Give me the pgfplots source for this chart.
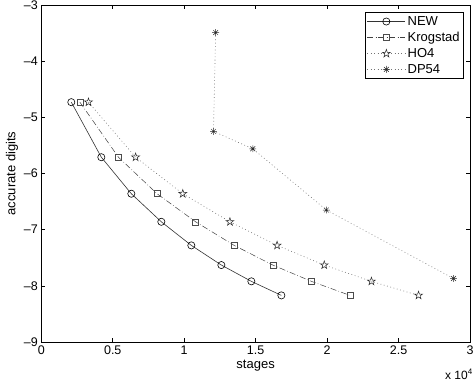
\documentclass[border=0pt]{standalone}
\usepackage{fontspec}
\setmainfont{Liberation Sans}
\usepackage{pgfplots}
\pgfplotsset{compat=1.18}
\pgfdeclareplotmark{pentagram}{%
  \pgfpathmoveto{\pgfpointpolar{90}{\pgfplotmarksize}}%
  \pgfpathlineto{\pgfpointpolar{126}{0.382\pgfplotmarksize}}%
  \pgfpathlineto{\pgfpointpolar{162}{\pgfplotmarksize}}%
  \pgfpathlineto{\pgfpointpolar{198}{0.382\pgfplotmarksize}}%
  \pgfpathlineto{\pgfpointpolar{234}{\pgfplotmarksize}}%
  \pgfpathlineto{\pgfpointpolar{270}{0.382\pgfplotmarksize}}%
  \pgfpathlineto{\pgfpointpolar{306}{\pgfplotmarksize}}%
  \pgfpathlineto{\pgfpointpolar{342}{0.382\pgfplotmarksize}}%
  \pgfpathlineto{\pgfpointpolar{18}{\pgfplotmarksize}}%
  \pgfpathlineto{\pgfpointpolar{54}{0.382\pgfplotmarksize}}%
  \pgfpathclose\pgfusepathqstroke}
\pgfdeclareplotmark{mstar}{%
  \pgfpathmoveto{\pgfqpoint{-\pgfplotmarksize}{0pt}}\pgfpathlineto{\pgfqpoint{\pgfplotmarksize}{0pt}}%
  \pgfpathmoveto{\pgfqpoint{0pt}{-\pgfplotmarksize}}\pgfpathlineto{\pgfqpoint{0pt}{\pgfplotmarksize}}%
  \pgfpathmoveto{\pgfpointpolar{45}{\pgfplotmarksize}}\pgfpathlineto{\pgfpointpolar{225}{\pgfplotmarksize}}%
  \pgfpathmoveto{\pgfpointpolar{135}{\pgfplotmarksize}}\pgfpathlineto{\pgfpointpolar{315}{\pgfplotmarksize}}%
  \pgfusepathqstroke}
\begin{document}
\begin{tikzpicture}
\begin{axis}[
  name=ax,
  scale only axis,
  width=428.7pt, height=337pt,
  xmin=0, xmax=30000, ymin=-9, ymax=-3,
  xtick={0,5000,10000,15000,20000,25000,30000},
  xticklabels={0,0.5,1,1.5,2,2.5,3},
  ytick={-9,-8,-7,-6,-5,-4,-3},
  yticklabels={–9,–8,–7,–6,–5,–4,–3},
  scaled x ticks=false,
  tick align=inside,
  major tick length=4pt,
  tick style={black, line width=0.5pt},
  axis line style={black, line width=0.6pt},
  ticklabel style={font=\fontsize{12.5}{14}\selectfont},
  xticklabel style={yshift=0pt},
  yticklabel style={xshift=0pt},
  xlabel={stages}, ylabel={accurate digits},
  label style={font=\fontsize{13}{15}\selectfont},
  xlabel style={yshift=1pt},
  ylabel style={yshift=-1pt},
  legend style={at={(rel axis cs:1,1)}, anchor=north east, xshift=-6pt, yshift=-7pt,
    font=\fontsize{13}{15}\selectfont, draw=black, line width=0.6pt, inner sep=2pt,
    row sep=1.3pt},
  legend cell align=left,
  legend image code/.code={\draw[mark repeat=2,mark phase=2,#1] plot coordinates {(0pt,0pt) (19pt,0pt) (38pt,0pt)};},
]
\addplot[black!80, line width=0.6pt, mark=o, mark size=3.6pt, mark options={solid, black}]
  coordinates {(2100,-4.73) (4200,-5.71) (6300,-6.36) (8400,-6.86) (10500,-7.28) (12600,-7.63) (14700,-7.92) (16800,-8.17)};
\addlegendentry{NEW}
\addplot[black!75, line width=0.5pt, dash pattern=on 6pt off 2.2pt on 0.6pt off 2.2pt, mark=square, mark size=3pt, mark options={solid, black!70}]
  coordinates {(2700,-4.73) (5400,-5.71) (8100,-6.36) (10800,-6.86) (13500,-7.28) (16200,-7.63) (18900,-7.92) (21600,-8.17)};
\addlegendentry{Krogstad}
\addplot[black!55, line width=0.6pt, dash pattern=on 0.8pt off 2.6pt, mark=pentagram, mark size=4.2pt, mark options={solid, black!85, line width=0.5pt}]
  coordinates {(3300,-4.73) (6600,-5.71) (9900,-6.36) (13200,-6.86) (16500,-7.28) (19800,-7.63) (23100,-7.92) (26400,-8.17)};
\addlegendentry{HO4}
\addplot[black!55, line width=0.6pt, dash pattern=on 0.8pt off 2.6pt, mark=mstar, mark size=3.4pt, mark options={solid, black!85, line width=0.5pt}]
  coordinates {(12200,-3.49) (12050,-5.25) (14800,-5.56) (19950,-6.65) (28850,-7.87)};
\addlegendentry{DP54}
\end{axis}
\node[anchor=base east, font=\fontsize{12}{14}\selectfont, inner sep=0pt] at ([xshift=3pt,yshift=-37pt]ax.south east) {x 10\textsuperscript{4}};
\pgfresetboundingbox
\path[use as bounding box] (-41.3pt,-39pt) rectangle (432.7pt,342pt);
\end{tikzpicture}
\end{document}
